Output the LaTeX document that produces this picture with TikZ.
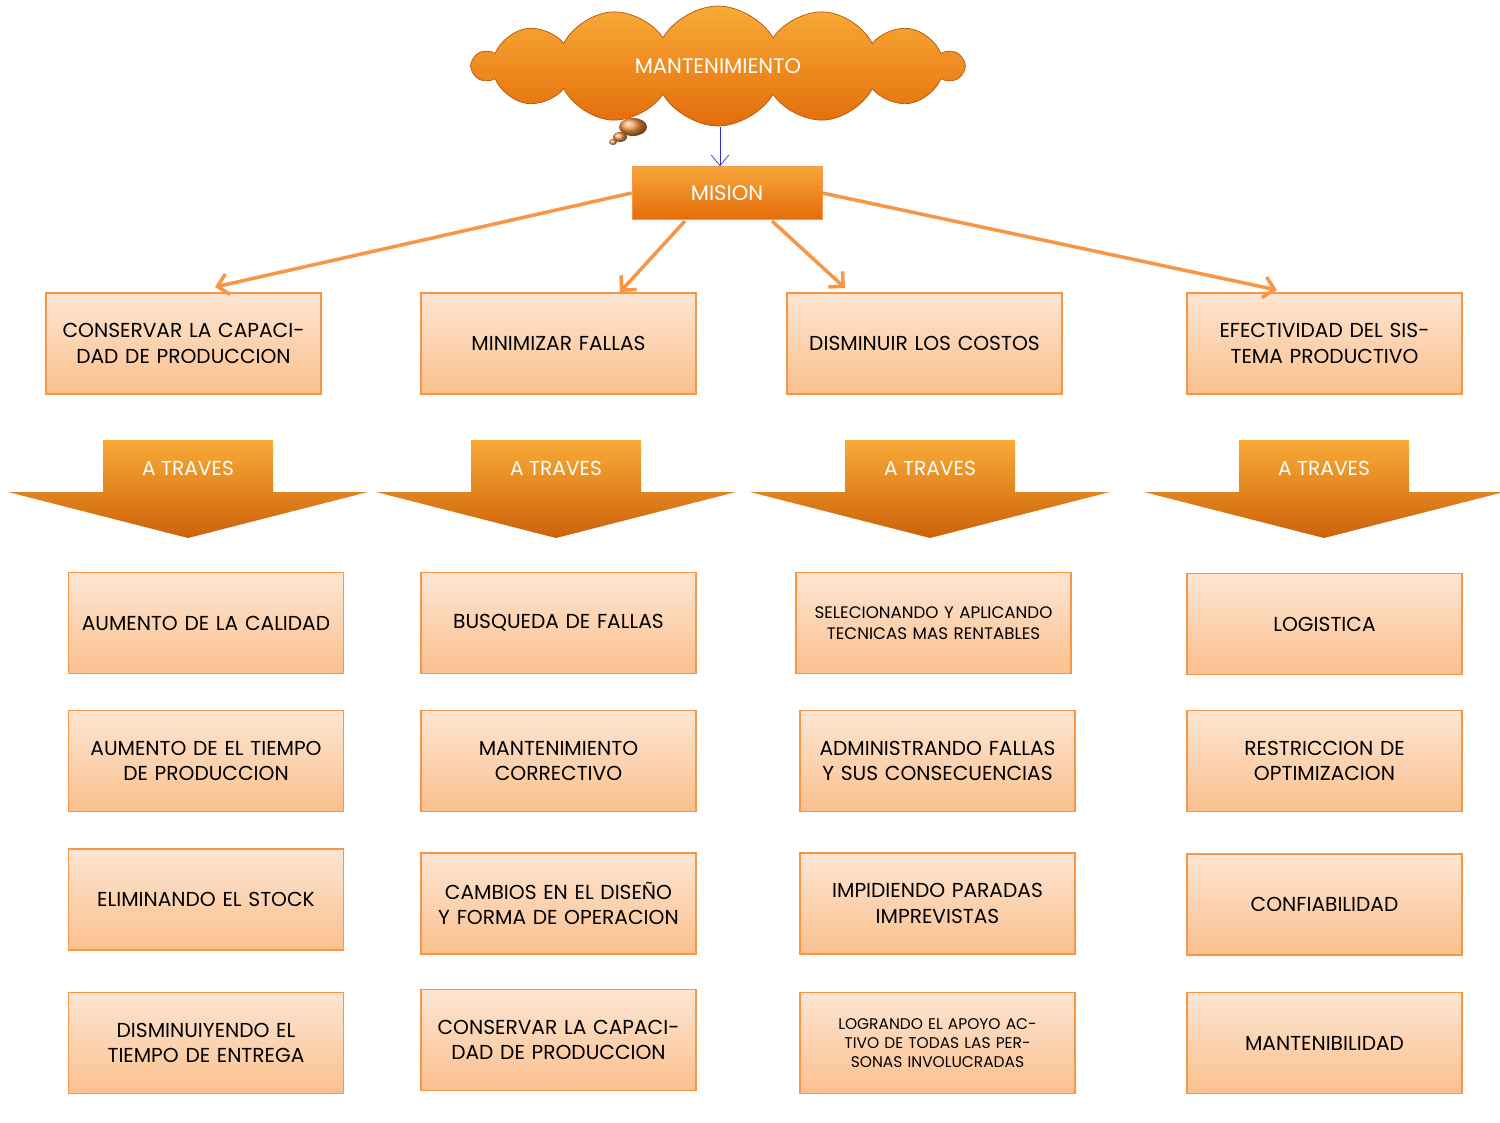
\documentclass[tikz,border=0pt]{standalone}
\usepackage{fontspec}
\setmainfont{Poppins}
\usetikzlibrary{shapes.symbols,arrows.meta}
\definecolor{naranja}{HTML}{F79646}
\definecolor{oscuro}{HTML}{E46C0A}
\definecolor{claro}{HTML}{FDE5D2}
\definecolor{medio}{HTML}{FBC08E}
\tikzstyle{caja} = [draw=naranja, line width=1pt, top color=claro, bottom color=medio, minimum width=5.5cm, minimum height=2.02cm, align=center, text width=5.2cm, font=\fontsize{11.5}{14.6}\selectfont]
\tikzstyle{chica} = [caja, font=\fontsize{9.5}{12}\selectfont]
\tikzstyle{flecha} = [naranja, line width=2pt, -{Straight Barb[length=6pt,width=12pt]}]
\tikzstyle{bajada} = [top color=naranja!80!yellow, bottom color=oscuro!90!black, draw=none]
\newcommand{\atraves}[2]{% center x, name
  \shade[bajada] (#1-85,440) -- (#1+85,440) -- (#1+85,492) -- (#1+180,492) -- (#1,538) -- (#1-180,492) -- (#1-85,492) -- cycle;
  \node[white, font=\fontsize{11.5}{14}\selectfont] (#2) at (#1,468) {A TRAVES};
}
\begin{document}
\begin{tikzpicture}[x=0.02cm, y=-0.02cm]
\useasboundingbox (0,0) rectangle (1500,1122);
% nube y mision
\node[cloud, cloud puffs=14, cloud puff arc=120, aspect=4, minimum width=9.8cm, minimum height=2.4cm, top color=naranja!80!yellow, bottom color=oscuro, draw=oscuro!80!black, text=white, font=\fontsize{12}{14}\selectfont] (nube) at (718,66) {MANTENIMIENTO};
\shade[ball color=naranja] (633,127) ellipse (14 and 9);
\shade[ball color=naranja] (620,137) ellipse (7 and 5);
\shade[ball color=naranja] (613,142) ellipse (4 and 3);
\node[top color=naranja!85!yellow, bottom color=oscuro, draw=naranja, minimum width=3.8cm, minimum height=1.06cm, text=white, font=\fontsize{12}{14}\selectfont] (mision) at (727,193) {MISION};
\draw[blue!60!gray, -{Straight Barb[length=6pt,width=10pt]}] (720,127) -- (mision.north -| 720,0);
% objetivos
\node[caja] (c1) at (183.5,343.5) {CONSERVAR LA CAPACIDAD DE PRODUCCION};
\node[caja] (c2) at (558.5,343.5) {MINIMIZAR FALLAS};
\node[caja] (c3) at (924.5,343.5) {DISMINUIR LOS COSTOS};
\node[caja] (c4) at (1324.5,343.5) {EFECTIVIDAD DEL SISTEMA PRODUCTIVO};
\draw[flecha] (mision.west) -- (215,287);
\draw[flecha] (685,221) -- (620,292);
\draw[flecha] (772,221) -- (845,288);
\draw[flecha] (mision.east) -- (1277,290);
% a traves
\atraves{188}{a1}
\atraves{556}{a2}
\atraves{930}{a3}
\atraves{1324}{a4}
% columna 1
\node[caja] (d11) at (206,623) {AUMENTO DE LA CALIDAD};
\node[caja] (d12) at (206,761) {AUMENTO DE EL TIEMPO DE PRODUCCION};
\node[caja] (d13) at (206,899.5) {ELIMINANDO EL STOCK};
\node[caja] (d14) at (206,1043) {DISMINUIYENDO EL TIEMPO DE ENTREGA};
% columna 2
\node[caja] (d21) at (558.5,623) {BUSQUEDA DE FALLAS};
\node[caja] (d22) at (558.5,761) {MANTENIMIENTO CORRECTIVO};
\node[caja] (d23) at (558.5,903.5) {CAMBIOS EN EL DISEÑO Y FORMA DE OPERACION};
\node[caja] (d24) at (558.5,1040) {CONSERVAR LA CAPACIDAD DE PRODUCCION};
% columna 3
\node[chica] (d31) at (933.5,623) {SELECIONANDO Y APLICANDO TECNICAS MAS RENTABLES};
\node[caja] (d32) at (937.5,761) {ADMINISTRANDO FALLAS Y SUS CONSECUENCIAS};
\node[caja] (d33) at (937.5,903.5) {IMPIDIENDO PARADAS IMPREVISTAS};
\node[chica, font=\fontsize{8.8}{11}\selectfont] (d34) at (937.5,1043) {LOGRANDO EL APOYO ACTIVO DE TODAS LAS PERSONAS INVOLUCRADAS};
% columna 4
\node[caja] (d41) at (1324.5,624) {LOGISTICA};
\node[caja] (d42) at (1324.5,761) {RESTRICCION DE OPTIMIZACION};
\node[caja] (d43) at (1324.5,904.5) {CONFIABILIDAD};
\node[caja] (d44) at (1324.5,1043) {MANTENIBILIDAD};
\end{tikzpicture}
\end{document}
